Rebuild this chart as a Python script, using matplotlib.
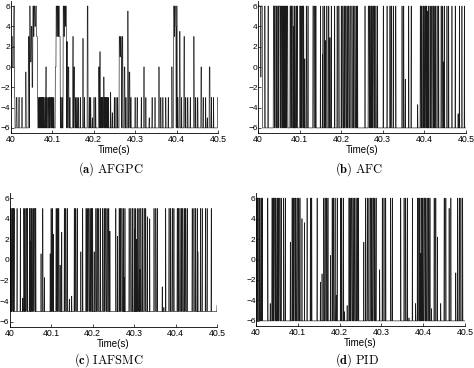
import numpy as np
import matplotlib
matplotlib.use("Agg")
import matplotlib.pyplot as plt

plt.rcParams['font.family'] = ['Liberation Sans', 'DejaVu Sans']
plt.rcParams['mathtext.fontset'] = 'cm'

xticks = [40, 40.1, 40.2, 40.3, 40.4, 40.5]
xtick_labels = ['40', '40.1', '40.2', '40.3', '40.4', '40.5']
yticks = [-6, -4, -2, 0, 2, 4, 6]
captions = [r'$\mathbf{(a)}\ \mathrm{AFGPC}$', r'$\mathbf{(b)}\ \mathrm{AFC}$',
            r'$\mathbf{(c)}\ \mathrm{IAFSMC}$', r'$\mathbf{(d)}\ \mathrm{PID}$']

# all times in ms after t = 40 s
# (a) AFGPC: base -6, pulses (start, width, level)
a_base = -6
a_pulses = [(0, 3, -3), (3, 3, 3), (5, 2, 0), (7, 2, 2), (8, 2, 6), (10, 1, -3),
            (14, 2, -3), (20, 2, -3), (27, 2, -3), (36, 2, -0.5),
            (43, 2, 3), (46, 2, 6), (48, 2, 0.5), (50, 2, 4), (52, 2, -2), (54, 2, 6),
            (56, 1, 3), (57, 2, 6), (59, 2, 4), (61, 2, 6), (63, 2, 3), (65, 1, -3),
            (68, 1, -3), (70, 1, -3), (72, 1, -3), (74, 1, -3), (76, 1, -3), (78, 1, -3),
            (80, 1, -3), (83, 1, -3), (85, 2, 0), (88, 1, -3),
            (92, 1, -3), (94, 1, -3), (96, 2, -3), (99, 1, -3), (101, 1, -3), (104, 1, -3),
            (108, 2, 0), (110, 2, 6), (112, 1, 3), (113, 2, 6), (115, 1, 3), (116, 2, 6),
            (118, 2, 3), (121, 1, -3), (124, 1, -3), (127, 2, 6), (129, 1, 3), (130, 2, 6),
            (132, 1, 4), (133, 2, 6), (136, 2, 2.5), (139, 2, 0), (143, 1, -3),
            (150, 2, 3), (153, 2, 0), (157, 1, -3), (160, 1, -3), (163, 1, -3), (168, 1, -3),
            (174, 2, 2.8), (178, 1, -3), (185, 2, 6),
            (190, 1, -3), (193, 1, -3), (197, 1, -5), (201, 1, -3), (205, 1, -3),
            (212, 2, 0), (215, 2, 1.5),
            (218, 1, -3), (220, 1, -3), (222, 1, -3), (224, 2, -1), (227, 1, -3), (229, 1, -3),
            (231, 1, -3), (233, 1, -3), (236, 1, -3),
            (241, 1, -2.5), (245, 1, -4.5), (250, 1, -3), (254, 1, -3), (258, 1, -3),
            (262, 2, 3), (264, 1, 1), (265, 2, 3), (267, 1, 1), (269, 2, 3), (274, 2, 0),
            (278, 1, -3), (282, 2, 5.5), (286, 2, -0.5), (290, 1, -3),
            (300, 1, -3), (305, 1, -3), (315, 1, -3), (321, 2, 0), (326, 1, -3), (334, 1, -5),
            (341, 1, -3), (348, 1, -3), (357, 2, 0), (362, 1, -3), (367, 1, -3), (374, 1, -3),
            (380, 1, -3), (388, 2, 0), (393, 2, 6), (395, 1, 3), (396, 2, 6), (398, 1, 4),
            (400, 2, 6), (403, 1, -3), (407, 2, 3.5), (412, 1, -3), (418, 2, 3), (422, 1, -3),
            (427, 1, -3), (433, 1, -3), (441, 2, 3), (446, 1, -3), (451, 1, -3), (459, 2, 0),
            (464, 1, -3), (470, 1, -3), (474, 1, -5), (479, 2, 0), (484, 1, -3), (489, 1, -3),
            (499, 1.5, -3)]
a_spikes = []

# (b) AFC: base -6, pulses to +6 (start, width), spikes (time, value)
b_base, b_high = -6, 6
b_pulses = [(0, 11), (16, 1.5), (24, 1.5),
            (37, 2), (40, 3), (44, 1.5), (47, 2), (50, 3), (54, 1), (56, 2), (59, 1.5),
            (62, 1), (64, 2), (67, 1.5), (70, 2),
            (77, 2), (80, 1.5), (83, 2), (88, 1), (91, 2), (94, 1.5),
            (100, 2), (103, 1.5), (106, 2), (109, 1.5),
            (116, 1.5), (120, 1), (132, 2), (136, 1.5), (139, 1), (150, 1), (156, 1),
            (160, 1), (165, 1.5), (170, 1), (176, 1), (184, 1),
            (190, 1), (194, 1.5), (200, 1), (203, 2), (207, 1), (210, 2), (214, 1), (217, 2),
            (221, 1.5), (225, 2), (229, 1), (232, 2), (236, 1), (239, 1),
            (257, 1), (265, 2), (268, 1.5), (271, 2), (274, 1), (277, 2), (280, 1),
            (283, 1.5), (287, 1),
            (301, 1), (310, 1), (317, 1), (320, 1.5), (325, 1), (331, 1), (346, 1), (350, 1),
            (362, 1), (368, 1),
            (390, 1.5), (393, 1), (396, 2), (399, 1), (402, 1.5), (405, 1), (409, 1),
            (413, 1.5), (416, 1), (420, 1.5), (423, 1), (426, 1), (430, 1.5), (434, 1),
            (440, 1), (444, 1), (448, 1), (454, 1), (458, 1), (466, 1), (474, 1), (484, 1),
            (490, 1), (496, 1)]
b_spikes = [(7, -1), (63, -2), (86, 4), (112.5, 0.8), (155, 1.2), (162, 2.6), (173, 2.9),
            (354, -1.2), (384, -3.7), (408, 5.5), (446, 0.5), (481, -4.6)]

# (c) IAFSMC: base -5, pulses to +5
c_base, c_high = -5, 5
c_pulses = [(0, 2), (3, 1.5), (6, 2), (9, 1), (11, 1), (18, 1), (26, 1), (34, 1.5), (37, 1),
            (40, 2), (43, 1), (48, 1.5), (51, 2), (54, 1), (57, 1.5), (60, 2), (63, 1),
            (80, 1), (100, 1), (103, 1), (112, 1.5), (115, 1), (118, 1.5), (132, 1),
            (135, 1.5), (139, 1), (156, 1), (159, 1.5), (163, 1), (176, 1), (184, 1.5),
            (187, 1), (190, 2), (194, 1), (197, 1.5), (200, 1), (208, 1), (211, 1.5),
            (215, 1), (219, 1), (224, 1.5), (228, 1), (231, 2), (235, 1), (239, 1), (256, 1),
            (264, 1.5), (267, 1), (270, 2), (274, 1), (278, 1), (288, 1), (292, 1.5),
            (296, 1), (300, 1), (304, 1), (309, 1), (312, 1), (316, 1.5), (320, 1),
            (324, 1.5), (328, 1), (348, 1), (352, 1.5), (356, 1), (376, 1), (384, 1.5),
            (388, 1), (392, 1.5), (396, 1), (404, 1.5), (407, 1), (410, 2), (414, 1),
            (417, 1.5), (421, 1), (424, 1.5), (428, 1), (440, 1), (444, 1.5), (448, 1),
            (452, 1), (460, 1), (464, 1), (472, 1), (476, 1), (486, 1)]
c_spikes = [(32, -3.7), (50, 1.8), (76, 0.6), (84, -1.7), (98, 0.6), (106, 2.5),
            (122, -0.5), (126, 2.7), (144, -3.8), (150, -3.5), (172, 0.8), (204, 0.8),
            (242, 2.8), (260, 2.3), (276, -1.7), (302, 3), (306.5, 2), (314, -0.9),
            (332, 4.2), (338, 4), (368, -2.6), (372, -4.6), (454, 0.8), (500, -4.4)]

# (d) PID: base -6, pulses to +6
d_base, d_high = -6, 6
d_pulses = [(0, 2), (3, 1.5), (6, 2), (9, 1), (12, 1.5), (15, 1), (28, 1), (38, 1.5),
            (41, 1), (44, 2), (47, 1), (50, 1.5), (53, 1), (56, 2), (60, 1), (66, 1), (70, 1),
            (86, 1.5), (89, 1), (92, 2), (95, 1), (98, 1.5), (102, 1), (105, 1), (122, 1),
            (130, 1), (133, 1), (146, 1), (162, 1), (165, 1.5), (169, 1), (172, 1), (182, 1),
            (185, 1.5), (189, 1), (194, 1), (202, 1), (205, 1), (209, 1), (222, 1.5),
            (225, 1), (228, 2), (232, 1), (235, 1.5), (239, 1), (242, 1.5), (245, 1),
            (262, 1), (266, 1.5), (270, 1), (274, 1.5), (277, 1), (280, 2), (284, 1),
            (287, 1.5), (302, 1), (306, 1), (310, 1), (322, 1), (326, 1), (346, 1), (354, 1),
            (358, 1), (362, 1), (374, 1), (386, 1), (389, 1.5), (392, 1), (396, 1.5),
            (399, 1), (402, 2), (406, 1), (409, 1.5), (413, 1), (416, 1), (426, 1), (430, 1),
            (450, 1), (454, 1), (466, 1), (482, 1), (486, 1), (490, 1), (494, 1)]
d_spikes = [(34, -4.3), (82, 1.7), (110, 4), (116, 3.6), (154, -2.2), (158, -1.4),
            (178, 0.4), (192, -3.5), (212, -5.1), (218, -4.5), (258, 1.7), (278.5, -5),
            (296, -1), (366, -5.7), (382, -4.3), (394.5, 0.6), (420, -4.8), (434, 2.2),
            (442, -4.3), (462, 5), (478, -1.3)]

ms = np.arange(0, 500.5, 0.5)
time = 40 + ms / 1000.0


def build(base, pulses, spikes, high=None):
    u = np.full(ms.shape, float(base))
    for p in pulses:
        v = p[2] if len(p) > 2 else high
        u[(ms >= p[0]) & (ms < p[0] + p[1])] = v
    for s, v in spikes:
        u[np.argmin(np.abs(ms - s))] = v
    return u


signals = [build(a_base, a_pulses, a_spikes),
           build(b_base, b_pulses, b_spikes, b_high),
           build(c_base, c_pulses, c_spikes, c_high),
           build(d_base, d_pulses, d_spikes, d_high)]

W, H = 474, 368
fig = plt.figure(figsize=(W / 100, H / 100), dpi=100)

# axes boxes in pixels: left, top, right, bottom
boxes = [(10.5, 1, 218, 133), (258, 1, 466, 133), (9.5, 193, 217, 327), (256, 193, 465, 326)]
cap_pos = [(111, 169), (359, 169), (109, 360), (357, 360)]

for i in range(4):
    l, t, r, b = boxes[i]
    ax = fig.add_axes([l / W, 1 - b / H, (r - l) / W, (b - t) / H])
    ax.plot(time, signals[i], color='#1a1a1a', lw=0.45)
    ax.set_xlim(40, 40.5)
    ax.set_ylim(-6.5, 6.5)
    ax.set_xticks(xticks)
    ax.set_xticklabels(xtick_labels)
    ax.set_yticks(yticks)
    ax.spines['top'].set_visible(False)
    ax.spines['right'].set_visible(False)
    ax.spines['left'].set_linewidth(0.6)
    ax.spines['bottom'].set_linewidth(0.6)
    ax.tick_params(direction='in', length=2.5, width=0.5, labelsize=6.3)
    ax.tick_params(axis='x', pad=1.5)
    ax.tick_params(axis='y', labelsize=6, pad=0.3)
    ax.set_xlabel('Time(s)', fontsize=7, labelpad=1)
    fig.text(cap_pos[i][0] / W, 1 - cap_pos[i][1] / H, captions[i], fontsize=9,
             ha='center', va='center')

fig.savefig('out.png', dpi=100)
